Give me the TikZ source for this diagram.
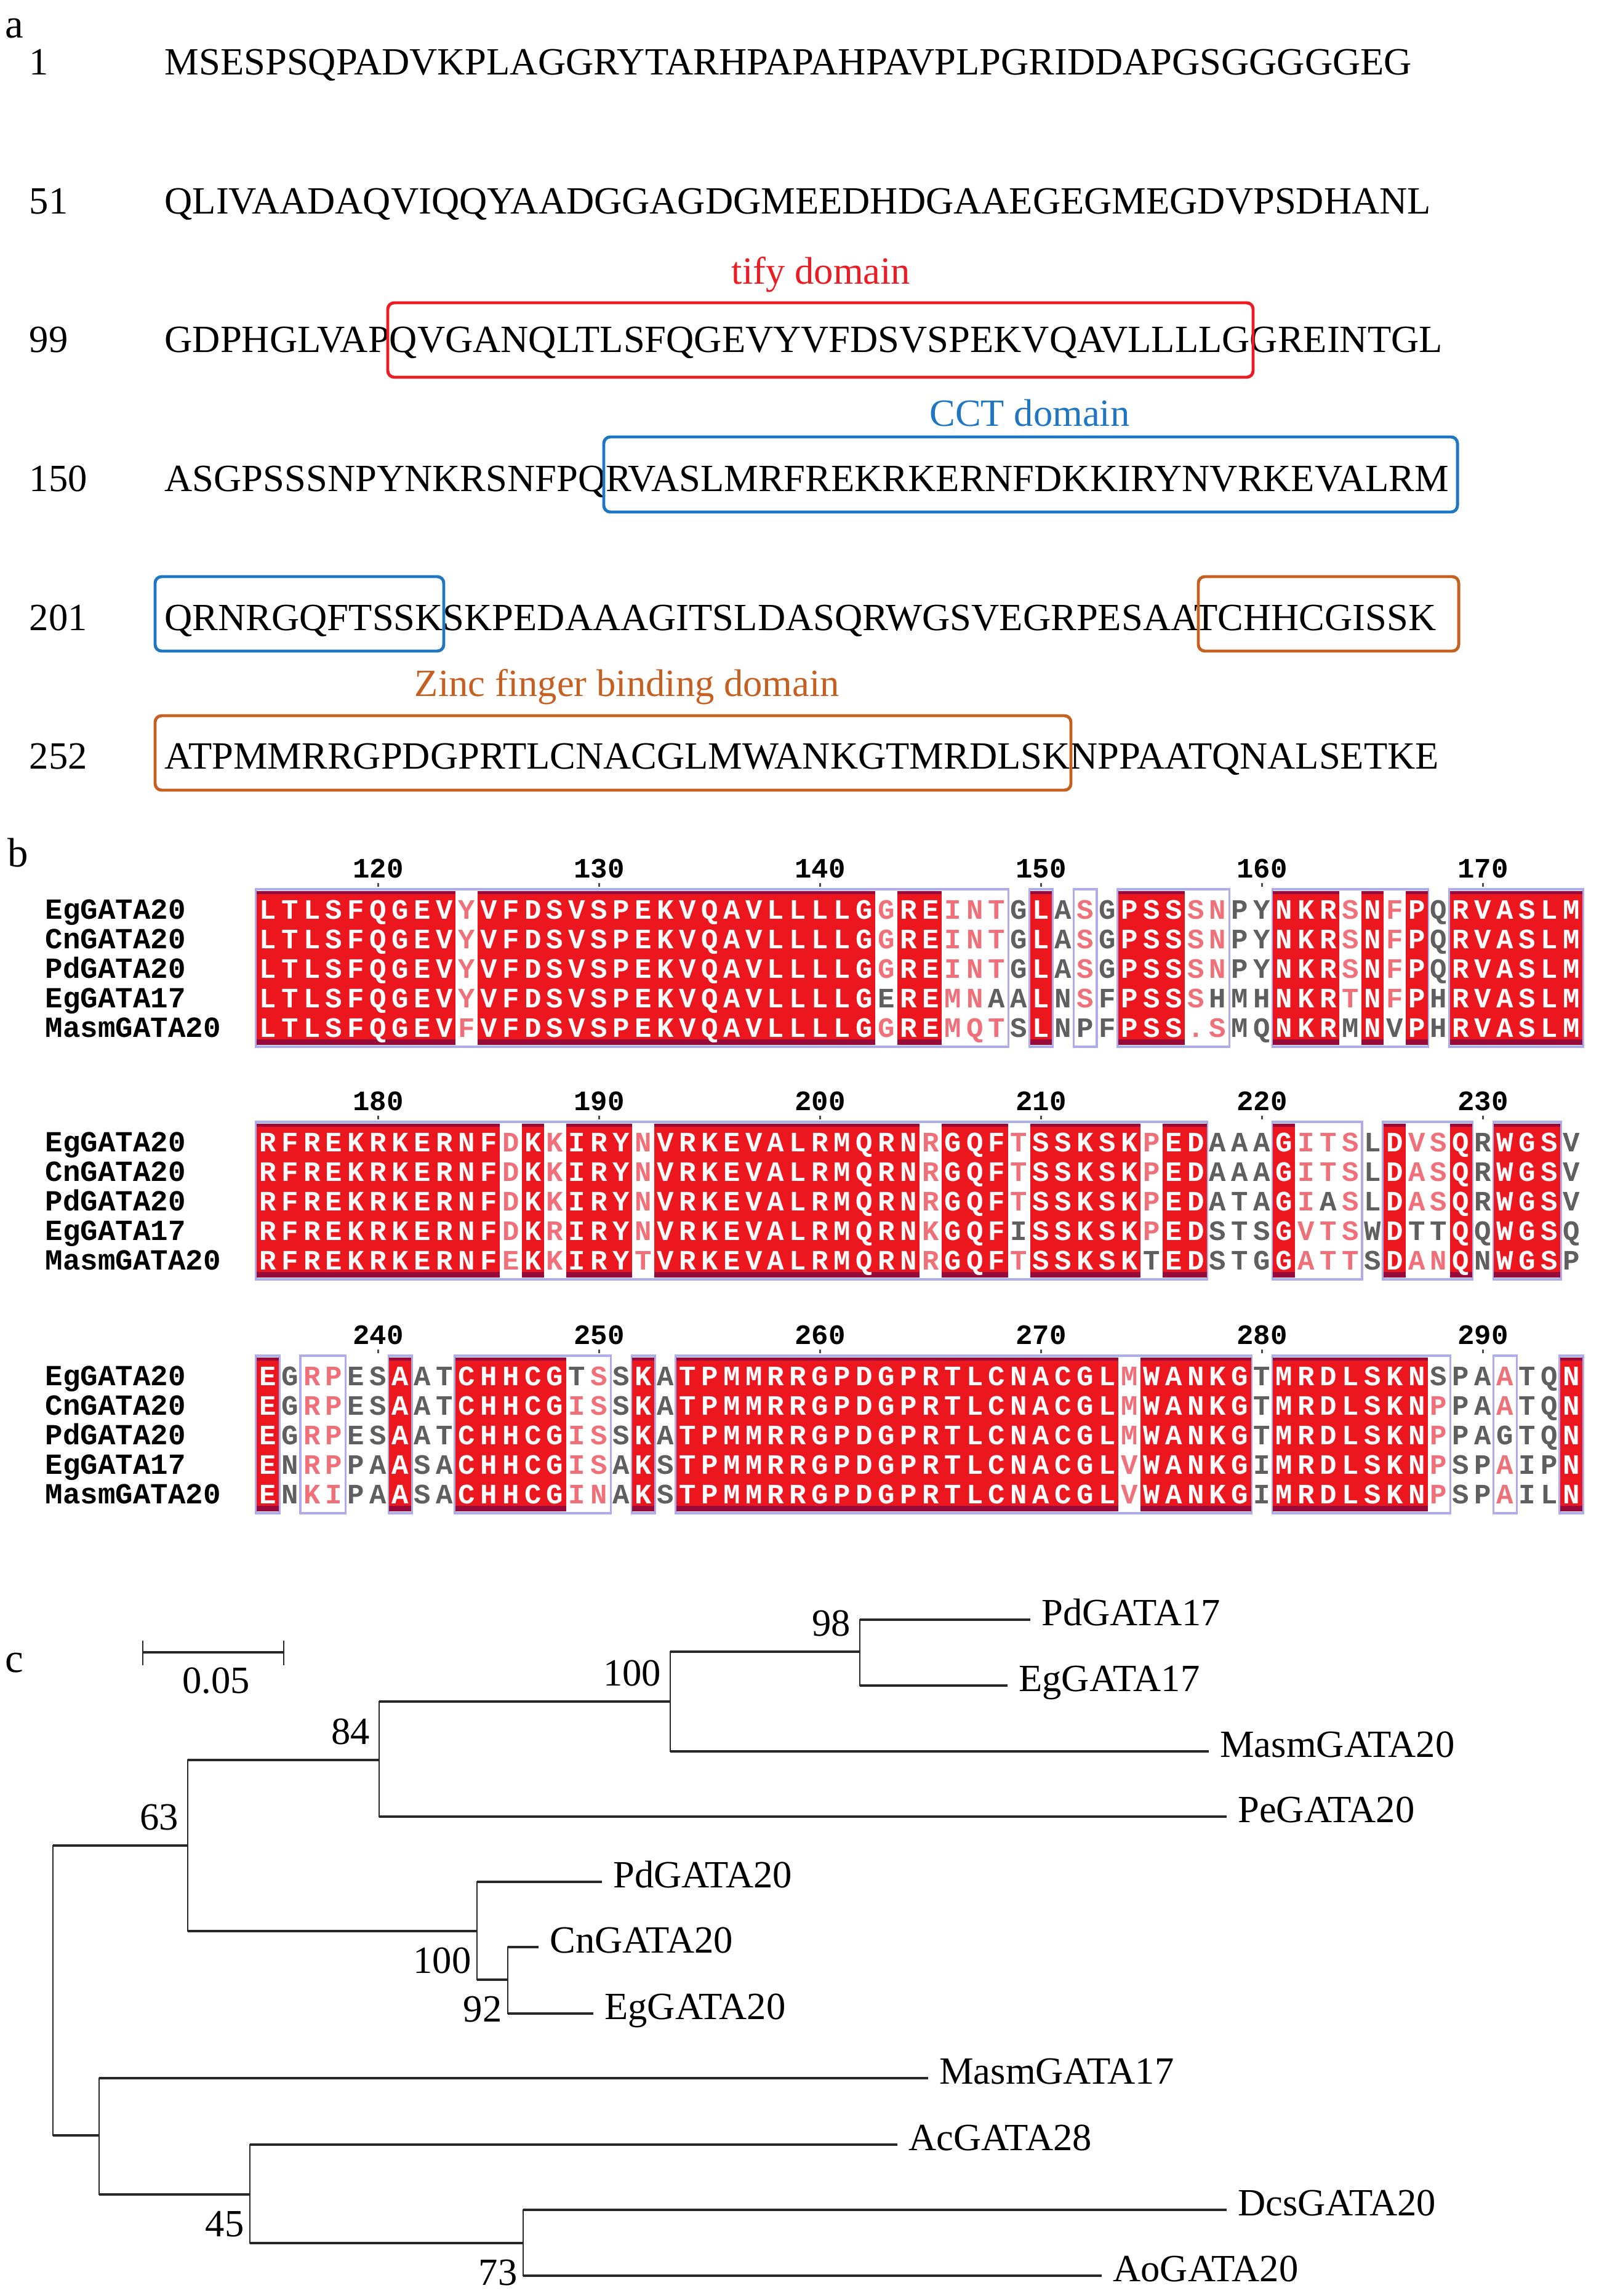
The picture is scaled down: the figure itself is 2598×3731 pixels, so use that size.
\documentclass[tikz,border=0pt]{standalone}
\usepackage{fontspec}
\setmainfont{Liberation Serif}
\newfontfamily\alnfont{Liberation Mono}
\usepackage{xstring}
\usepackage{tikz}
\usetikzlibrary{positioning}

\definecolor{tifyred}{RGB}{235,28,36}
\definecolor{cctblue}{RGB}{31,119,196}
\definecolor{zincorange}{RGB}{197,96,32}
\definecolor{idnred}{RGB}{236,22,30}
\definecolor{idnedge}{RGB}{150,10,60}
\definecolor{frameblue}{RGB}{172,172,238}
\definecolor{simpink}{RGB}{240,112,122}
\definecolor{resgray}{RGB}{95,95,95}
\definecolor{branchgray}{RGB}{40,40,40}

% column classes: R identical, S similar, N other
\def\clsA{%
RRRRRRRRRS%
RRRRRRRRRR%
RRRRRRRRSR%
RSSSNRNSNR%
RRSSNNRRRS%
RSRNRRRRRR}
\def\clsB{%
RRRRRRRRRR%
RSRSRRRSRR%
RRRRRRRRRR%
SRRRSRRRRR%
SRRNNNRSSS%
NRSSRNRRRN}
\def\clsC{%
RNSSNNRNNR%
RRRRSSNRNR%
RRRRRRRRRR%
RRRRRRRRRS%
RRRRRNRRRR%
RRRSNNSNNR}

% one row of residues: y, residues (lower case = not similar), classes, name
\newcommand\alnrow[4]{%
  \foreach \k in {1,...,60}{%
    \StrChar{#2}{\k}[\alnch]%
    \StrChar{#3}{\k}[\alncl]%
    \def\alncol{resgray}%
    \IfStrEq{\alncl}{R}{\def\alncol{white}}{}%
    \IfStrEq{\alncl}{S}{\IfSubStr{abcdefghijklmnopqrstuvwxyz}{\alnch}{}{\def\alncol{simpink}}}{}%
    \node[res, text=\alncol] (#4c\k) at ({417+(\k-0.5)*35.9}, {#1+13})
      {\expandafter\uppercase\expandafter{\alnch}};
  }%
}

% frames, red columns, ruler and names of one block: y, first number, classes, frames
\newcommand\alnblock[4]{%
  \foreach \fa/\fb in {#4}{%
    \draw[frm] ({417+(\fa-1)*35.9-1}, {#1-35}) rectangle ({417+\fb*35.9+1}, {#1+221});
  }%
  \foreach \k in {1,...,60}{%
    \StrChar{#3}{\k}[\alncl]%
    \IfStrEq{\alncl}{R}{%
      \fill[idn] ({417+(\k-1)*35.9}, {#1-32}) rectangle ({417+\k*35.9}, {#1+218});
      \fill[idnband] ({417+(\k-1)*35.9}, {#1-32}) rectangle ({417+\k*35.9}, {#1-27});
      \fill[idnband] ({417+(\k-1)*35.9}, {#1+209}) rectangle ({417+\k*35.9}, {#1+218});
    }{}%
  }%
  \foreach \j in {0,...,5}{%
    \pgfmathtruncatemacro\alnnum{#2+5+10*\j}%
    \node[resnum] (pos\alnnum) at ({417+(5.5+10*\j)*35.9}, {#1-54}) {\alnnum};
    \draw[tick] ({417+(5.5+10*\j)*35.9}, {#1-45}) -- ++(0,6);
  }%
  \foreach \nm [count=\r] in {EgGATA20,CnGATA20,PdGATA20,EgGATA17,MasmGATA20}{%
    \node[seqname] (\nm-#1) at (73, {#1+13+(\r-1)*48}) {\nm};
  }%
}

\begin{document}
\begin{tikzpicture}[x=0.01cm, y=-0.01cm,
    txt/.style={font=\fontsize{17.8}{20}\selectfont, inner sep=0pt},
    seq/.style={txt, anchor=base west},
    panel/.style={font=\fontsize{19}{22}\selectfont, inner sep=0pt, anchor=base west},
    domlbl/.style={txt, anchor=base},
    dombox/.style={line width=1.4pt, rounded corners=3pt},
    res/.style={font=\alnfont\bfseries\fontsize{13}{13}\selectfont, inner sep=0pt, anchor=base},
    resnum/.style={font=\alnfont\bfseries\fontsize{13}{13}\selectfont, inner sep=0pt, anchor=base},
    seqname/.style={font=\alnfont\bfseries\fontsize{13.5}{14}\selectfont, inner sep=0pt, anchor=base west},
    idn/.style={fill=idnred},
    idnband/.style={fill=idnedge},
    frm/.style={draw=frameblue, line width=1pt},
    tick/.style={draw=black!70, line width=0.6pt},
    vbranch/.style={draw=branchgray, line width=0.7pt},
    hbranch/.style={draw=branchgray, line width=1.2pt},
    leaf/.style={txt, anchor=base west, xshift=5pt, yshift=-2.6pt},
    bootup/.style={txt, anchor=south east, inner xsep=4pt, inner ysep=7pt},
    bootdown/.style={txt, anchor=north east, inner xsep=2.5pt, inner ysep=7.5pt}
]
\useasboundingbox (0,0) rectangle (2598,3731);

% panel a: sequence with domains
\node[panel] (pa) at (8,62) {a};
\foreach \n/\s [count=\i from 0] in {
    1/MSESPSQPADVKPLAGGRYTARHPAPAHPAVPLPGRIDDAPGSGGGGGEG,
    51/QLIVAADAQVIQQYAADGGAGDGMEEDHDGAAEGEGMEGDVPSDHANL,
    99/GDPHGLVAPQVGANQLTLSFQGEVYVFDSVSPEKVQAVLLLLGGREINTGL,
    150/ASGPSSSNPYNKRSNFPQRVASLMRFREKRKERNFDKKIRYNVRKEVALRM,
    201/QRNRGQFTSSKSKPEDAAAGITSLDASQRWGSVEGRPESAATCHHCGISSK,
    252/ATPMMRRGPDGPRTLCNACGLMWANKGTMRDLSKNPPAATQNALSETKE}{
  \node[seq] (num\n) at (47, {121.8+225.6*\i}) {\n};
  \node[seq] (seq\n) at (267, {121.8+225.6*\i}) {\s};
}
\draw[dombox, draw=tifyred] (630,492) rectangle (2036,613);
\draw[dombox, draw=cctblue] (981,710) rectangle (2368,832);
\draw[dombox, draw=cctblue] (252,937) rectangle (721,1058);
\draw[dombox, draw=zincorange] (1947,937) rectangle (2370,1058);
\draw[dombox, draw=zincorange] (252,1163) rectangle (1740,1284);
\node[domlbl, text=tifyred] (ltify) at (1334,462) {tify domain};
\node[domlbl, text=cctblue] (lcct) at (1673,693) {CCT domain};
\node[domlbl, text=zincorange] (lzinc) at (1019,1131) {Zinc finger binding domain};

% panel b: alignment
\node[panel] (pb) at (12,1408) {b};
\alnblock{1480}{115}{\clsA}{1/34,36/36,38/38,40/44,47/53,55/60}
\alnrow{1480}{LTLSFQGEVYVFDSVSPEKVQAVLLLLGGREINTGLASGPSSSNPYNKRSNFPQRVASLM}{\clsA}{b1r1}
\alnrow{1528}{LTLSFQGEVYVFDSVSPEKVQAVLLLLGGREINTGLASGPSSSNPYNKRSNFPQRVASLM}{\clsA}{b1r2}
\alnrow{1576}{LTLSFQGEVYVFDSVSPEKVQAVLLLLGGREINTGLASGPSSSNPYNKRSNFPQRVASLM}{\clsA}{b1r3}
\alnrow{1624}{LTLSFQGEVYVFDSVSPEKVQAVLLLLGeREMNaALNSFPSSShMHNKRTNFPHRVASLM}{\clsA}{b1r4}
\alnrow{1672}{LTLSFQGEVFVFDSVSPEKVQAVLLLLGGREMQTSLNpFPSS.SMQNKRmNvPHRVASLM}{\clsA}{b1r5}

\alnblock{1858}{175}{\clsB}{1/43,47/50,52/55,57/59}
\alnrow{1858}{RFREKRKERNFDKKIRYNVRKEVALRMQRNRGQFTSSKSKPEDAAAGITSLDVSQRWGSV}{\clsB}{b2r1}
\alnrow{1906}{RFREKRKERNFDKKIRYNVRKEVALRMQRNRGQFTSSKSKPEDAAAGITSLDASQRWGSV}{\clsB}{b2r2}
\alnrow{1954}{RFREKRKERNFDKKIRYNVRKEVALRMQRNRGQFTSSKSKPEDATAGIaSLDASQRWGSV}{\clsB}{b2r3}
\alnrow{2002}{RFREKRKERNFDKRIRYNVRKEVALRMQRNKGQFiSSKSKPEDSTSGVTSWDttQQWGSQ}{\clsB}{b2r4}
\alnrow{2050}{RFREKRKERNFEKKIRYTVRKEVALRMQRNRGQFTSSKSKtEDSTGGATTSDANQNWGSP}{\clsB}{b2r5}

\alnblock{2238}{235}{\clsC}{1/1,3/4,7/7,10/16,18/18,20/45,47/54,57/57,60/60}
\alnrow{2238}{EGRPESAATCHHCGtSSKATPMMRRGPDGPRTLCNACGLMWANKGTMRDLSKNsPAATQN}{\clsC}{b3r1}
\alnrow{2286}{EGRPESAATCHHCGISSKATPMMRRGPDGPRTLCNACGLMWANKGTMRDLSKNPPAATQN}{\clsC}{b3r2}
\alnrow{2334}{EGRPESAATCHHCGISSKATPMMRRGPDGPRTLCNACGLMWANKGTMRDLSKNPPAgTQN}{\clsC}{b3r3}
\alnrow{2382}{ENRPPAASACHHCGISAKSTPMMRRGPDGPRTLCNACGLVWANKGIMRDLSKNPSPAIPN}{\clsC}{b3r4}
\alnrow{2430}{ENKIPAASACHHCGINAKSTPMMRRGPDGPRTLCNACGLVWANKGIMRDLSKNPSPAILN}{\clsC}{b3r5}

% panel c: tree
\node[panel] (pc) at (8,2717) {c};
\coordinate (sbl) at (232,2685);
\coordinate (sbr) at (461,2685);
\draw[hbranch] (sbl) -- (sbr);
\draw[vbranch] ([yshift=5.5pt]sbl) -- ([yshift=-6pt]sbl);
\draw[vbranch] ([yshift=5.5pt]sbr) -- ([yshift=-6pt]sbr);
\node[txt] (sblabel) at (351,2731) {0.05};

\coordinate (root) at (86,3235);
\coordinate (n63) at (305,2999);
\coordinate (n84) at (616,2860);
\coordinate (n100a) at (1089,2765);
\coordinate (n98) at (1397,2684);
\coordinate (n100b) at (775,3138);
\coordinate (n92) at (825,3217);
\coordinate (nlow) at (161,3470);
\coordinate (n45) at (406,3566);
\coordinate (n73) at (850,3645);

\coordinate (tPd17) at (1674,2632);
\coordinate (tEg17) at (1637,2739);
\coordinate (tMasm20) at (1964,2846);
\coordinate (tPe20) at (1993,2952);
\coordinate (tPd20) at (978,3058);
\coordinate (tCn20) at (875,3164);
\coordinate (tEg20) at (964,3272);
\coordinate (tMasm17) at (1508,3377);
\coordinate (tAc28) at (1458,3485);
\coordinate (tDcs20) at (1993,3591);
\coordinate (tAo20) at (1790,3698);

\foreach \p/\q in {root/n63, root/nlow, n63/n84, n63/n100b, n84/n100a, n84/tPe20,
    n100a/n98, n100a/tMasm20, n98/tPd17, n98/tEg17, n100b/tPd20, n100b/n92,
    n92/tCn20, n92/tEg20, nlow/tMasm17, nlow/n45, n45/tAc28, n45/n73,
    n73/tDcs20, n73/tAo20}{
  \draw[vbranch] (\p) |- (\q);
  \draw[hbranch] (\p |- \q) -- (\q);
}

\node[leaf] (lPd17) at (tPd17) {PdGATA17};
\node[leaf] (lEg17) at (tEg17) {EgGATA17};
\node[leaf] (lMasm20) at (tMasm20) {MasmGATA20};
\node[leaf] (lPe20) at (tPe20) {PeGATA20};
\node[leaf] (lPd20) at (tPd20) {PdGATA20};
\node[leaf] (lCn20) at (tCn20) {CnGATA20};
\node[leaf] (lEg20) at (tEg20) {EgGATA20};
\node[leaf] (lMasm17) at (tMasm17) {MasmGATA17};
\node[leaf] (lAc28) at (tAc28) {AcGATA28};
\node[leaf] (lDcs20) at (tDcs20) {DcsGATA20};
\node[leaf] (lAo20) at (tAo20) {AoGATA20};

\node[bootup] (b98) at (n98) {98};
\node[bootup] (b100a) at (n100a) {100};
\node[bootup] (b84) at (n84) {84};
\node[bootup] (b63) at (n63) {63};
\node[bootdown] (b100b) at (n100b) {100};
\node[bootdown] (b92) at (n92) {92};
\node[bootdown] (b45) at (n45) {45};
\node[bootdown] (b73) at (n73) {73};
\end{tikzpicture}
\end{document}
